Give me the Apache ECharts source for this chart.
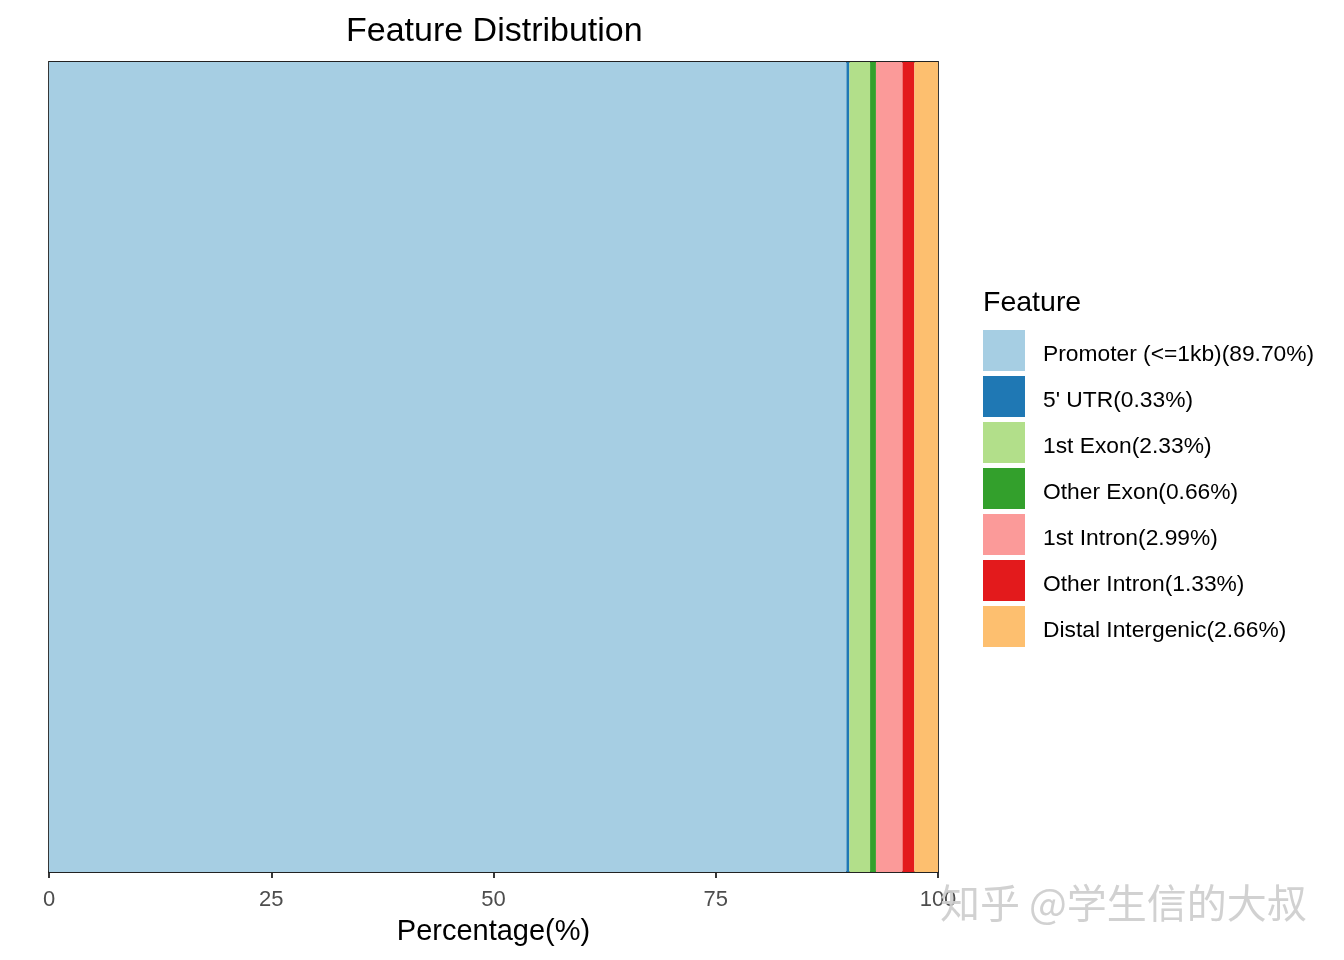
<!DOCTYPE html>
<html>
<head>
<meta charset="utf-8">
<script src="https://cdn.jsdelivr.net/npm/echarts@6/dist/echarts.min.js"></script>
<style>html,body{margin:0;padding:0;background:#fff}#c{width:1344px;height:960px}</style>
</head>
<body>
<div id="c"></div>
<script>
var features = ["Promoter (<=1kb)", "5' UTR", "1st Exon", "Other Exon", "1st Intron", "Other Intron", "Distal Intergenic"];
var percents = [89.70, 0.33, 2.33, 0.66, 2.99, 1.33, 2.66];
var colors = ["#A6CEE3", "#1F78B4", "#B2DF8A", "#33A02C", "#FB9A99", "#E31A1C", "#FDBF6F"];
var xTicks = [0, 25, 50, 75, 100];
var category = ["peaks"];

var font = "Liberation Sans, Arial, sans-serif";
var names = features.map(function (f, i) { return f + "(" + percents[i].toFixed(2) + "%)"; });

var series = names.map(function (n, i) {
  return {
    name: n,
    type: 'bar',
    stack: 'all',
    barWidth: '100%',
    barCategoryGap: 0,
    itemStyle: { color: colors[i] },
    emphasis: { disabled: true },
    data: [percents[i]]
  };
});

var chart = echarts.init(document.getElementById('c'), null, { renderer: 'canvas' });
chart.setOption({
  animation: false,
  backgroundColor: '#ffffff',
  title: [
    { text: 'Feature Distribution', left: 341, top: 10,
      textStyle: { fontFamily: font, fontSize: 34, fontWeight: 'normal', color: '#000' } },
    { text: 'Feature', left: 978, top: 284,
      textStyle: { fontFamily: font, fontSize: 28.5, fontWeight: 'normal', color: '#000' } }
  ],
  grid: { left: 49, right: 406, top: 62, bottom: 88, show: true, borderColor: '#222', borderWidth: 1.8, backgroundColor: 'transparent', containLabel: false },
  legend: {
    orient: 'vertical', left: 978, top: 325,
    icon: 'rect', itemWidth: 42, itemHeight: 41, itemGap: 5,
    selectedMode: false,
    data: names,
    formatter: function (n) { return '{a|' + n + '}'; },
    textStyle: { fontFamily: font, fontSize: 22.8, color: '#000',
      rich: { a: { fontFamily: font, fontSize: 22.8, color: '#000', padding: [8, 0, 0, 13] } } }
  },
  xAxis: {
    type: 'value', min: 0, max: 100, interval: 25,
    name: 'Percentage(%)', nameLocation: 'middle', nameGap: 45,
    nameTextStyle: { fontFamily: font, fontSize: 29, color: '#000' },
    axisLine: { show: true, lineStyle: { color: '#222', width: 1.8 } },
    axisTick: { show: true, length: 6, lineStyle: { color: '#222', width: 1.8 } },
    axisLabel: { fontFamily: font, fontSize: 22, color: '#4D4D4D', margin: 17,
      formatter: function (v) { return xTicks.indexOf(v) >= 0 ? String(v) : ''; } },
    splitLine: { show: false }
  },
  yAxis: {
    type: 'category', data: category,
    axisLine: { show: false }, axisTick: { show: false }, axisLabel: { show: false }
  },
  series: series,
  graphic: [
    { type: 'text', left: 940, top: 883, z: 100,
      style: { text: '知乎 @学生信的大叔', font: '40px "Noto Sans CJK SC", sans-serif',
        fill: 'rgba(205,205,205,0.92)', shadowColor: 'rgba(120,120,120,0.6)', shadowBlur: 1, shadowOffsetX: -1, shadowOffsetY: -1 } }
  ]
});
</script>
</body>
</html>
